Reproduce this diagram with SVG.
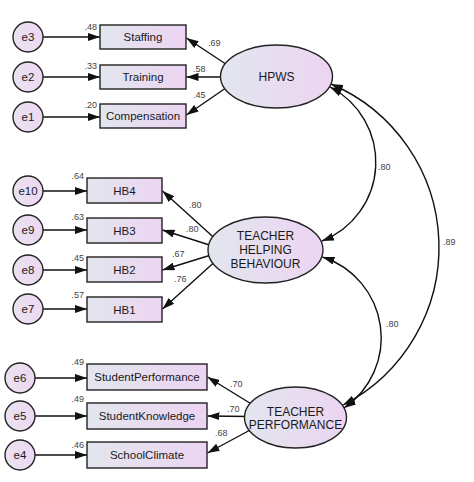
<svg xmlns="http://www.w3.org/2000/svg" width="474" height="482" viewBox="0 0 474 482">
<defs>
<linearGradient id="g" x1="0" y1="0" x2="1" y2="0">
<stop offset="0" stop-color="#e2e6ee"/>
<stop offset="1" stop-color="#ecd4f2"/>
</linearGradient>
<linearGradient id="gc" x1="0" y1="0" x2="1" y2="0">
<stop offset="0" stop-color="#e9e2f0"/>
<stop offset="1" stop-color="#eed8f2"/>
</linearGradient>
<marker id="ah" markerUnits="userSpaceOnUse" markerWidth="12" markerHeight="8" refX="12" refY="4" orient="auto-start-reverse">
<path d="M0,0 L12,4 L0,8 z" fill="#111"/>
</marker>
</defs>
<style>
.box{fill:url(#g);stroke:#222;stroke-width:1.4}
.ell{fill:url(#g);stroke:#222;stroke-width:1.4}
.err{fill:url(#gc);stroke:#222;stroke-width:1.4}
.c{stroke:#111;stroke-width:1.4;fill:none;marker-end:url(#ah)}
.cc{stroke:#111;stroke-width:1.4;fill:none;marker-end:url(#ah);marker-start:url(#ah)}
.t{font-family:"Liberation Sans",Arial,sans-serif;font-size:11.5px;fill:#1a1a1a;text-anchor:middle}
.lt{font-family:"Liberation Sans",Arial,sans-serif;font-size:12px;fill:#1a1a1a;text-anchor:middle}
.n{font-family:"Liberation Sans",Arial,sans-serif;font-size:9px;fill:#444}
.ne{font-family:"Liberation Sans",Arial,sans-serif;font-size:9px;fill:#444;text-anchor:end}
</style>
<g id="connectors">
<!-- error arrows -->
<line class="c" x1="43" y1="37" x2="100" y2="37"/>
<line class="c" x1="43" y1="77" x2="100" y2="77"/>
<line class="c" x1="43" y1="117" x2="100" y2="117"/>
<line class="c" x1="43" y1="191" x2="87" y2="191"/>
<line class="c" x1="43" y1="230" x2="87" y2="230"/>
<line class="c" x1="43" y1="270" x2="87" y2="270"/>
<line class="c" x1="43" y1="309" x2="87" y2="309"/>
<line class="c" x1="35" y1="378" x2="87" y2="378"/>
<line class="c" x1="35" y1="416" x2="87" y2="416"/>
<line class="c" x1="35" y1="455" x2="87" y2="455"/>
<!-- HPWS loadings -->
<line class="c" x1="228" y1="65.5" x2="186.5" y2="38"/>
<line class="c" x1="226" y1="77" x2="186.5" y2="77"/>
<line class="c" x1="228" y1="86.5" x2="186.5" y2="115"/>
<!-- THB loadings -->
<line class="c" x1="216" y1="239.5" x2="162.5" y2="191"/>
<line class="c" x1="211" y1="245.5" x2="162.5" y2="230"/>
<line class="c" x1="211" y1="255" x2="162.5" y2="270"/>
<line class="c" x1="214" y1="262.5" x2="162.5" y2="309"/>
<!-- TP loadings -->
<line class="c" x1="253" y1="405" x2="207.5" y2="377"/>
<line class="c" x1="250" y1="416.5" x2="207.5" y2="416"/>
<line class="c" x1="252" y1="429" x2="207.5" y2="453"/>
<!-- covariances -->
<path class="cc" d="M330,87 A84.6,84.6 0 0 1 322,241"/>
<path class="cc" d="M322.5,257 A84.9,84.9 0 0 1 344,408"/>
<path class="cc" d="M331,84 A177.5,177.5 0 0 1 343,405"/>
</g>
<g id="labels">
<text class="ne" x="97" y="30">.48</text>
<text class="ne" x="97" y="69">.33</text>
<text class="ne" x="97" y="108">.20</text>
<text class="n" x="208" y="46">.69</text>
<text class="n" x="193" y="72">.58</text>
<text class="n" x="193" y="98">.45</text>
<text class="ne" x="84" y="179">.64</text>
<text class="ne" x="84" y="220">.63</text>
<text class="ne" x="84" y="260.5">.45</text>
<text class="ne" x="84" y="298">.57</text>
<text class="n" x="189" y="208">.80</text>
<text class="n" x="186" y="232">.80</text>
<text class="n" x="172" y="257">.67</text>
<text class="n" x="174" y="282">.76</text>
<text class="ne" x="84" y="365">.49</text>
<text class="ne" x="84" y="402">.49</text>
<text class="ne" x="84" y="447.5">.46</text>
<text class="n" x="230" y="387">.70</text>
<text class="n" x="227" y="411.5">.70</text>
<text class="n" x="215" y="436">.68</text>
<text class="n" x="378" y="170">.80</text>
<text class="n" x="443" y="245">.89</text>
<text class="n" x="386" y="327">.80</text>
</g>
<g id="e3"><circle class="err" cx="28" cy="37" r="15"/><text class="t" x="28" y="41">e3</text></g>
<g id="e2"><circle class="err" cx="28" cy="77" r="15"/><text class="t" x="28" y="81">e2</text></g>
<g id="e1"><circle class="err" cx="28" cy="117" r="15"/><text class="t" x="28" y="121">e1</text></g>
<g id="staffing"><rect class="box" x="100" y="25" width="86" height="24"/><text class="t" x="143" y="41">Staffing</text></g>
<g id="training"><rect class="box" x="100" y="65" width="86" height="24"/><text class="t" x="143" y="81">Training</text></g>
<g id="compensation"><rect class="box" x="100" y="104" width="86" height="24"/><text class="t" x="143" y="120">Compensation</text></g>
<g id="hpws"><ellipse class="ell" cx="276.5" cy="76.5" rx="56" ry="31.5"/><text class="lt" x="276.5" y="81">HPWS</text></g>
<g id="e10"><circle class="err" cx="28" cy="191" r="15"/><text class="t" x="28" y="195">e10</text></g>
<g id="e9"><circle class="err" cx="28" cy="230" r="15"/><text class="t" x="28" y="234">e9</text></g>
<g id="e8"><circle class="err" cx="28" cy="270" r="15"/><text class="t" x="28" y="274">e8</text></g>
<g id="e7"><circle class="err" cx="28" cy="309" r="15"/><text class="t" x="28" y="313">e7</text></g>
<g id="hb4"><rect class="box" x="87" y="178" width="75" height="25"/><text class="t" x="124.5" y="195">HB4</text></g>
<g id="hb3"><rect class="box" x="87" y="218" width="75" height="25"/><text class="t" x="124.5" y="235">HB3</text></g>
<g id="hb2"><rect class="box" x="87" y="257" width="75" height="25"/><text class="t" x="124.5" y="274">HB2</text></g>
<g id="hb1"><rect class="box" x="87" y="297" width="75" height="25"/><text class="t" x="124.5" y="314">HB1</text></g>
<g id="thb"><ellipse class="ell" cx="265.5" cy="250" rx="57.5" ry="33"/><text class="lt" x="265.5" y="240">TEACHER</text><text class="lt" x="265.5" y="254">HELPING</text><text class="lt" x="265.5" y="267.5">BEHAVIOUR</text></g>
<g id="e6"><circle class="err" cx="20" cy="378" r="15"/><text class="t" x="20" y="382">e6</text></g>
<g id="e5"><circle class="err" cx="20" cy="416" r="15"/><text class="t" x="20" y="420">e5</text></g>
<g id="e4"><circle class="err" cx="20" cy="455" r="15"/><text class="t" x="20" y="459">e4</text></g>
<g id="studentperformance"><rect class="box" x="87" y="364" width="120" height="26"/><text class="t" x="147" y="381">StudentPerformance</text></g>
<g id="studentknowledge"><rect class="box" x="87" y="403" width="120" height="26"/><text class="t" x="147" y="420">StudentKnowledge</text></g>
<g id="schoolclimate"><rect class="box" x="87" y="442" width="120" height="26"/><text class="t" x="147" y="459">SchoolClimate</text></g>
<g id="tp"><ellipse class="ell" cx="295.5" cy="417.5" rx="51" ry="30.5"/><text class="lt" x="295.5" y="416">TEACHER</text><text class="lt" x="295.5" y="428.5">PERFORMANCE</text></g>
</svg>
